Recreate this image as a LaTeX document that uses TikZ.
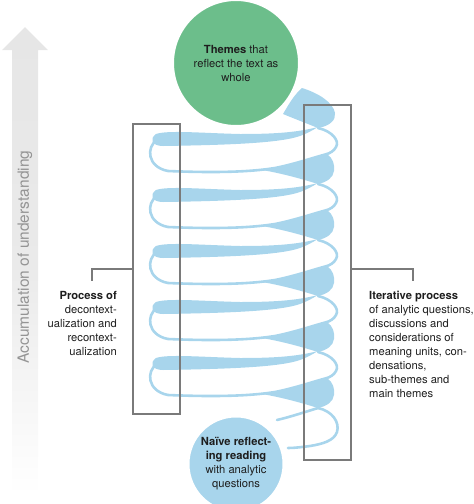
\documentclass[tikz,border=0pt]{standalone}
\usepackage{fontspec}
\setmainfont{TeX Gyre Heros}
\usetikzlibrary{calc}
\definecolor{ribbonBlue}{HTML}{A8D5EC}
\definecolor{themeGreen}{HTML}{6CBE8B}
\definecolor{frameGrey}{HTML}{7A7A7A}
\definecolor{arrowGrey}{HTML}{E6E6E6}
\definecolor{inkBlack}{HTML}{1E1E1E}
\tikzset{
    BodyText/.style={font=\fontsize{11.2}{14}\selectfont, text=inkBlack, inner sep=0pt},
    AxisText/.style={font=\fontsize{15.5}{18}\selectfont, text=black!42, inner sep=0pt},
    ThemeCircle/.style={circle, fill=themeGreen, draw=white, line width=3pt, minimum size=127pt, align=center, BodyText},
    ReadingCircle/.style={circle, fill=ribbonBlue, draw=white, line width=3pt, minimum size=96pt, align=center, BodyText},
    BoxFrame/.style={draw=frameGrey, line width=1.1pt, inner sep=0pt},
    Leader/.style={draw=frameGrey, line width=1.1pt},
    RibbonFill/.style={fill=ribbonBlue},
    RibbonLine/.style={draw=ribbonBlue, line width=2.6pt, line cap=round}
}

\begin{document}
\begin{tikzpicture}[x=1pt, y=-1pt]
    \useasboundingbox (0,0) rectangle (474,504);

    % fading arrow on the left
    \shade[top color=arrowGrey, bottom color=white, middle color=arrowGrey!85]
        (12,50) -- (2,50) -- (25,27) -- (48,50) -- (38,50) -- (38,495) -- (12,495) -- cycle;
    \node[AxisText, rotate=90] (accum) at (25,257) {Accumulation of understanding};

    % the coil, one turn per step
    \foreach \Y in {139,195,251,307,363} {
        % back band, wide on the left
        \fill[RibbonFill] (318,\Y-12) .. controls (295,\Y-6) and (270,\Y-5) .. (240,\Y-5)
            .. controls (200,\Y-6) and (168,\Y-9) .. (156,\Y-5)
            .. controls (149,\Y) and (152,\Y+7) .. (163,\Y+7)
            .. controls (230,\Y+6) and (280,\Y+4) .. (300,\Y-3)
            .. controls (308,\Y-6) and (313,\Y-9) .. cycle;
        % left turn and front
        \draw[RibbonLine] (157,\Y+1) .. controls (146,\Y+8) and (147,\Y+28) .. (168,\Y+32)
            .. controls (215,\Y+34) and (250,\Y+33) .. (275,\Y+29)
            .. controls (295,\Y+25) and (312,\Y+19) .. (327,\Y+15);
        % wedge and right turn
        \fill[RibbonFill] (262,\Y+31) .. controls (290,\Y+27) and (310,\Y+19) .. (327,\Y+15)
            .. controls (333,\Y+19) and (335,\Y+26) .. (334,\Y+32)
            .. controls (333,\Y+39) and (327,\Y+43) .. (318,\Y+45)
            .. controls (305,\Y+41) and (285,\Y+35) .. cycle;
    }
    \foreach \Y in {83,139,195,251,307} {
        \draw[RibbonLine] (318,\Y+45) .. controls (332,\Y+48) and (340,\Y+58) .. (336,\Y+64)
            .. controls (334,\Y+68) and (330,\Y+70) .. (327,\Y+71);
    }
    % ends of the coil
    \fill[RibbonFill] (283,114) .. controls (290,102) and (295,94) .. (302,88)
        .. controls (318,93) and (333,102) .. (335,113)
        .. controls (336,120) and (330,126) .. (318,128)
        .. controls (308,124) and (295,119) .. cycle;
    \draw[RibbonLine] (318,408) .. controls (305,412) and (290,417) .. (277,420);
    \draw[RibbonLine] (318,408) .. controls (332,411) and (340,422) .. (337,432)
        .. controls (334,441) and (322,444) .. (310,446)
        .. controls (302,447) and (295,448) .. (288,448);

    % frames
    \node[BoxFrame, minimum width=47pt, minimum height=290pt] (lbox) at (156.5,269) {};
    \node[BoxFrame, minimum width=47pt, minimum height=355pt] (rbox) at (327.5,282.5) {};

    % circles
    \node[ThemeCircle] (themes) at (236,63) {\textbf{Themes} that\\reflect the text as\\whole};
    \node[ReadingCircle] (reading) at (236,464) {\textbf{Naïve reflect-}\\\textbf{ing reading}\\with analytic\\questions};

    % side texts
    \node[BodyText, anchor=north east, align=right] (ltext) at (117,291)
        {\textbf{Process of}\\decontext-\\ualization and\\recontext-\\ualization};
    \node[BodyText, anchor=north west, align=left] (rtext) at (369,291)
        {\textbf{Iterative process}\\of analytic questions,\\discussions and\\considerations of\\meaning units, con-\\densations,\\sub-themes and\\main themes};

    \coordinate (lleader) at (92,281);
    \coordinate (rleader) at (413,281);
    \draw[Leader] (lbox.west) -| (lleader);
    \draw[Leader] (rbox.east |- lbox.west) -| (rleader);
\end{tikzpicture}
\end{document}
